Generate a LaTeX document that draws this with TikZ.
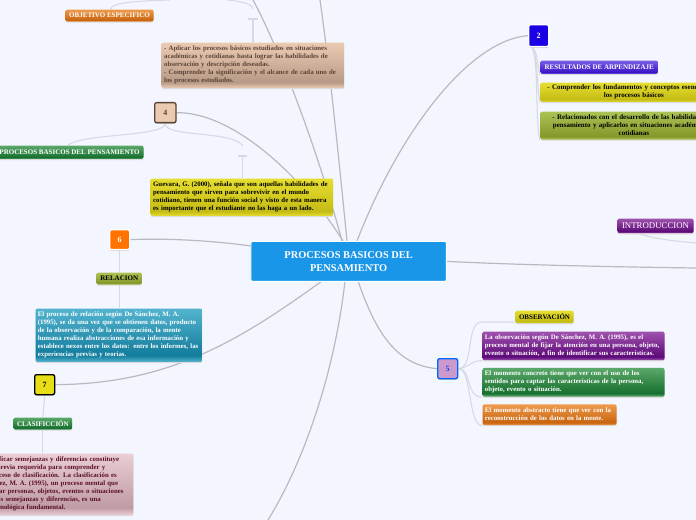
\documentclass[tikz,border=0pt]{standalone}
\usepackage{fontspec}
\usepackage{xcolor}
\setmainfont{Liberation Serif}
\usetikzlibrary{backgrounds,shadows,positioning}
\definecolor{pagebg}{HTML}{F3F6FF}
\definecolor{trunk}{HTML}{B9BABD}
\definecolor{twig}{HTML}{D6D9E2}
\definecolor{mainblue}{HTML}{1A96E8}
\definecolor{darkbrown}{HTML}{5A4436}
\definecolor{wine}{HTML}{5A0F25}
\newcommand{\glossy}[3]{%
  \definecolor{#1L}{HTML}{#2}\definecolor{#1D}{HTML}{#3}%
  \pgfdeclareverticalshading{#1}{100bp}{color(0bp)=(#1L);color(25bp)=(#1L);color(31bp)=(#1D);color(75bp)=(#1L);color(100bp)=(#1L)}}
\glossy{gorange}{EE9A4C}{C8650F}
\glossy{gbeige}{EBCAB2}{B79A86}
\glossy{ggreen}{5BA86A}{17702F}
\glossy{gyellow}{E6DE30}{C4BC14}
\glossy{golive}{ABC255}{84992A}
\glossy{gteal}{54B4CF}{127C9C}
\glossy{gpink}{EACDD5}{BE9BA5}
\glossy{gviolet}{7A5FE6}{3A14C8}
\glossy{gpurple}{A052AE}{5C0A78}
\begin{document}
\begin{tikzpicture}[x=0.75pt,y=-0.75pt,thick]
\tikzstyle{card}=[anchor=north west, rounded corners=1.5pt, inner sep=0pt, align=left, font=\bfseries\fontsize{5.1}{6}\selectfont,
  general shadow={shadow xshift=0pt,shadow yshift=-0.9pt,fill=black!14}]
\tikzstyle{tag}=[card, align=center, font=\bfseries\fontsize{5.25}{6}\selectfont]
\tikzstyle{badge}=[anchor=north west, rounded corners=1.5pt, line width=1pt, minimum width=15pt, minimum height=15pt, inner sep=0pt,
  font=\bfseries\fontsize{6}{7}\selectfont, general shadow={shadow xshift=0pt,shadow yshift=-0.9pt,fill=black!22}]
\tikzstyle{trunkline}=[draw=trunk, line width=0.9pt]
\tikzstyle{twigline}=[draw=twig, line width=0.8pt]
\useasboundingbox (0,0) rectangle (696,520);

% central topic
\node[anchor=north west, rounded corners=1.5pt, draw=white, line width=0.6pt, fill=mainblue, text=white, align=center,
  minimum width=146.6pt, minimum height=30pt, inner sep=0pt, font=\bfseries\fontsize{7.8}{9.6}\selectfont] (main) at (250.5,241) {PROCESOS BASICOS DEL\\PENSAMIENTO};

% branch 4 and the one above it
\node[tag, shade, shading=gorange, text=white, minimum width=66pt, minimum height=9pt] (objetivo) at (65,9) {OBJETIVO ESPECIFICO};
\node[card, shade, shading=gbeige, text=darkbrown, minimum width=137pt, minimum height=34pt, text width=133pt] (aplicar) at (161,42) {%
- Aplicar los procesos básicos estudiados en situaciones\\académicas y cotidianas hasta lograr las habilidades de\\observación y descripción deseadas.\\- Comprender la significación y el alcance de cada uno de\\los procesos estudiados.};
\node[badge, draw=darkbrown, fill=gbeigeL, text=darkbrown, minimum width=16pt] (four) at (154,102) {4};
\node[tag, shade, shading=ggreen, text=white, minimum width=111pt, minimum height=10pt] (procesos) at (-5,145) {PROCESOS BASICOS DEL PENSAMIENTO};
\node[card, shade, shading=gyellow, text=black, minimum width=137pt, minimum height=28pt, text width=133pt] (guevara) at (150,178) {%
Guevara, G. (2000), señala que son aquellas habilidades de\\pensamiento que sirven para sobrevivir en el mundo\\cotidiano, tienen una función social y visto de esta manera\\es importante que el estudiante no las haga a un lado.};

% branch 6
\node[badge, draw=white, fill=orange!90!red, text=white] (six) at (109,229) {6};
\node[tag, shade, shading=golive, text=black, minimum width=34pt, minimum height=9pt] (relacion) at (96,272) {RELACION};
\node[card, shade, shading=gteal, text=white, minimum width=125pt, minimum height=40pt, text width=121.5pt] (relaciontxt) at (35,308) {%
El proceso de relación según De Sánchez, M. A.\\(1995), se da una vez que se obtienen datos, producto\\de la observación y de la comparación, la mente\\humana realiza abstracciones de esa información y\\establece nexos entre los datos: entre los informes, las\\experiencias previas y teorías.};

% branch 7
\node[badge, draw=black, fill=yellow!90!black, text=black] (seven) at (34,374) {7};
\node[tag, shade, shading=ggreen, text=white, minimum width=44pt, minimum height=9pt] (clasif) at (13,417) {CLASIFICCIÓN};
\node[card, shade, shading=gpink, text=wine, anchor=north east, minimum width=115.5pt, minimum height=46pt, text width=112pt] (clasiftxt) at (134,453) {%
Identificar semejanzas y diferencias constituye\\base previa requerida para comprender y\\el proceso de clasificación. La clasificación es\\Sánchez, M. A. (1995), un proceso mental que\\agrupar personas, objetos, eventos o situaciones\\por sus semejanzas y diferencias, es una\\epistemológica fundamental.};

% branch 2
\node[badge, draw=white, fill=blue!80!violet, text=white, minimum height=16.5pt] (two) at (528,24) {2};
\node[tag, shade, shading=gviolet, text=white, minimum width=88pt, minimum height=10pt] (resultados) at (540,60) {RESULTADOS DE ARPENDIZAJE};
\node[tag, shade, shading=gyellow, text=black, minimum width=140pt, minimum height=14.5pt, text width=134pt] (fundamentos) at (540,82) {- Comprender los fundamentos y conceptos esenciales de\\los procesos básicos};
\node[tag, shade, shading=golive, text=black, minimum width=140pt, minimum height=21pt, text width=134pt] (habilidades) at (540,111) {- Relacionados con el desarrollo de las habilidades de\\pensamiento y aplicarlos en situaciones académicas y\\cotidianas};

% introduccion
\node[tag, shade, shading=gpurple, text=white, font=\fontsize{6.6}{8}\selectfont, minimum width=57pt, minimum height=11pt] (intro) at (617,218) {INTRODUCCION};

% branch 5
\node[badge, draw=blue!60!cyan, fill=violet!40!white, text=blue!70!cyan] (five) at (437,358) {5};
\node[tag, shade, shading=gyellow, text=black, minimum width=43.5pt, minimum height=9.5pt] (observacion) at (515,310) {OBSERVACIÓN};
\node[card, shade, shading=gpurple, text=white, minimum width=136.5pt, minimum height=21.5pt, text width=133pt] (obstxt) at (482,331) {%
La observación según De Sánchez, M. A. (1995), es el\\proceso mental de fijar la atención en una persona, objeto,\\evento o situación, a fin de identificar sus características.};
\node[card, shade, shading=ggreen, text=white, minimum width=136.5pt, minimum height=21.5pt, text width=133pt, below=5pt of obstxt.south west, anchor=north west] (concreto) {%
El momento concreto tiene que ver con el uso de los\\sentidos para captar las características de la persona,\\objeto, evento o situación.};
\node[card, shade, shading=gorange, text=white, minimum width=100.5pt, minimum height=15.5pt, text width=97pt, below=5pt of concreto.south west, anchor=north west] (abstracto) {%
El momento abstracto tiene que ver con la\\reconstrucción de los datos en la mente.};

% free ends outside the page
\coordinate (topa) at (253,0);
\coordinate (topb) at (320,0);
\coordinate (bottom) at (268,520);
\coordinate (east) at (696,268);
\coordinate (objtop) at (170,0);
\coordinate (apltop) at (227,0);
\coordinate (aplend) at (253,9);
\coordinate (aplbar) at (253,19);
\coordinate (guevend) at (243,146);
\coordinate (guevbar) at (242.5,156);
\coordinate (introeast) at (696,243);

\begin{scope}[on background layer]
\fill[pagebg] (0,0) rectangle (696,520);
\draw[trunkline] (topa) .. controls (275,40) and (315,140) .. (342,241);
\draw[trunkline] (topb) .. controls (330,70) and (340,170) .. (347,241);
\draw[trunkline] (four.east) .. controls (235,112) and (305,180) .. (343,241);
\draw[trunkline] (357,241) .. controls (400,130) and (470,40) .. (two.west);
\draw[trunkline] (six.east) .. controls (170,238) and (215,241) .. (251,246);
\draw[trunkline] (seven.east) .. controls (170,384) and (240,340) .. (322,281);
\draw[trunkline] (345,281) .. controls (335,370) and (305,460) .. (bottom);
\draw[trunkline] (358,281) .. controls (375,330) and (395,365) .. (five.west);
\draw[trunkline] (main.east) .. controls (520,265) and (620,267) .. (east);
% sub topics
\draw[twigline] (objetivo.north) ++(1,0) .. controls (112,2) and (140,1) .. (objtop);
\draw[twigline] (apltop) .. controls (240,1) and (253,4) .. (aplend);
\draw[twigline] (248,19) -- (aplbar) -- (258,19);
\draw[twigline] (aplbar) -- (aplbar |- aplicar.north);
\draw[twigline] (four.south) .. controls (165,137) and (85,133) .. (procesos.north -| 68,145);
\draw[twigline] (four.south) .. controls (165,138) and (232,130) .. (guevend);
\draw[twigline] (238,156) -- (guevbar) -- (247,156);
\draw[twigline] (guevbar) -- (guevbar |- guevara.north);
\draw[twigline] (six.south) -- (relacion.north -| six.south);
\draw[twigline] (relacion.south -| six.south) -- (relaciontxt.north -| six.south);
\draw[twigline] (seven.south) -- (clasif.north);
\draw[twigline] (clasif.south) -- (clasif.south |- clasiftxt.north);
\draw[twigline] (two.south west) ++(4,0) .. controls (538,52) and (537,65) .. (resultados.south west);
\draw[twigline] (two.south west) ++(4,0) .. controls (538,55) and (537,90) .. (fundamentos.south west);
\draw[twigline] (two.south west) ++(4,0) .. controls (539,60) and (535,125) .. (habilidades.south west);
\draw[twigline] (intro.south) ++(-17,0) .. controls (660,240) and (675,241) .. (introeast);
\draw[twigline] (five.east) .. controls (475,368) and (465,322) .. (482,322) -- (observacion.west |- 0,322);
\draw[twigline] (five.east) .. controls (468,368) and (472,360) .. (obstxt.south west);
\draw[twigline] (five.east) .. controls (472,368) and (465,397) .. (concreto.south west);
\draw[twigline] (five.east) .. controls (472,368) and (468,426) .. (abstracto.south west);
\end{scope}
\end{tikzpicture}
\end{document}
